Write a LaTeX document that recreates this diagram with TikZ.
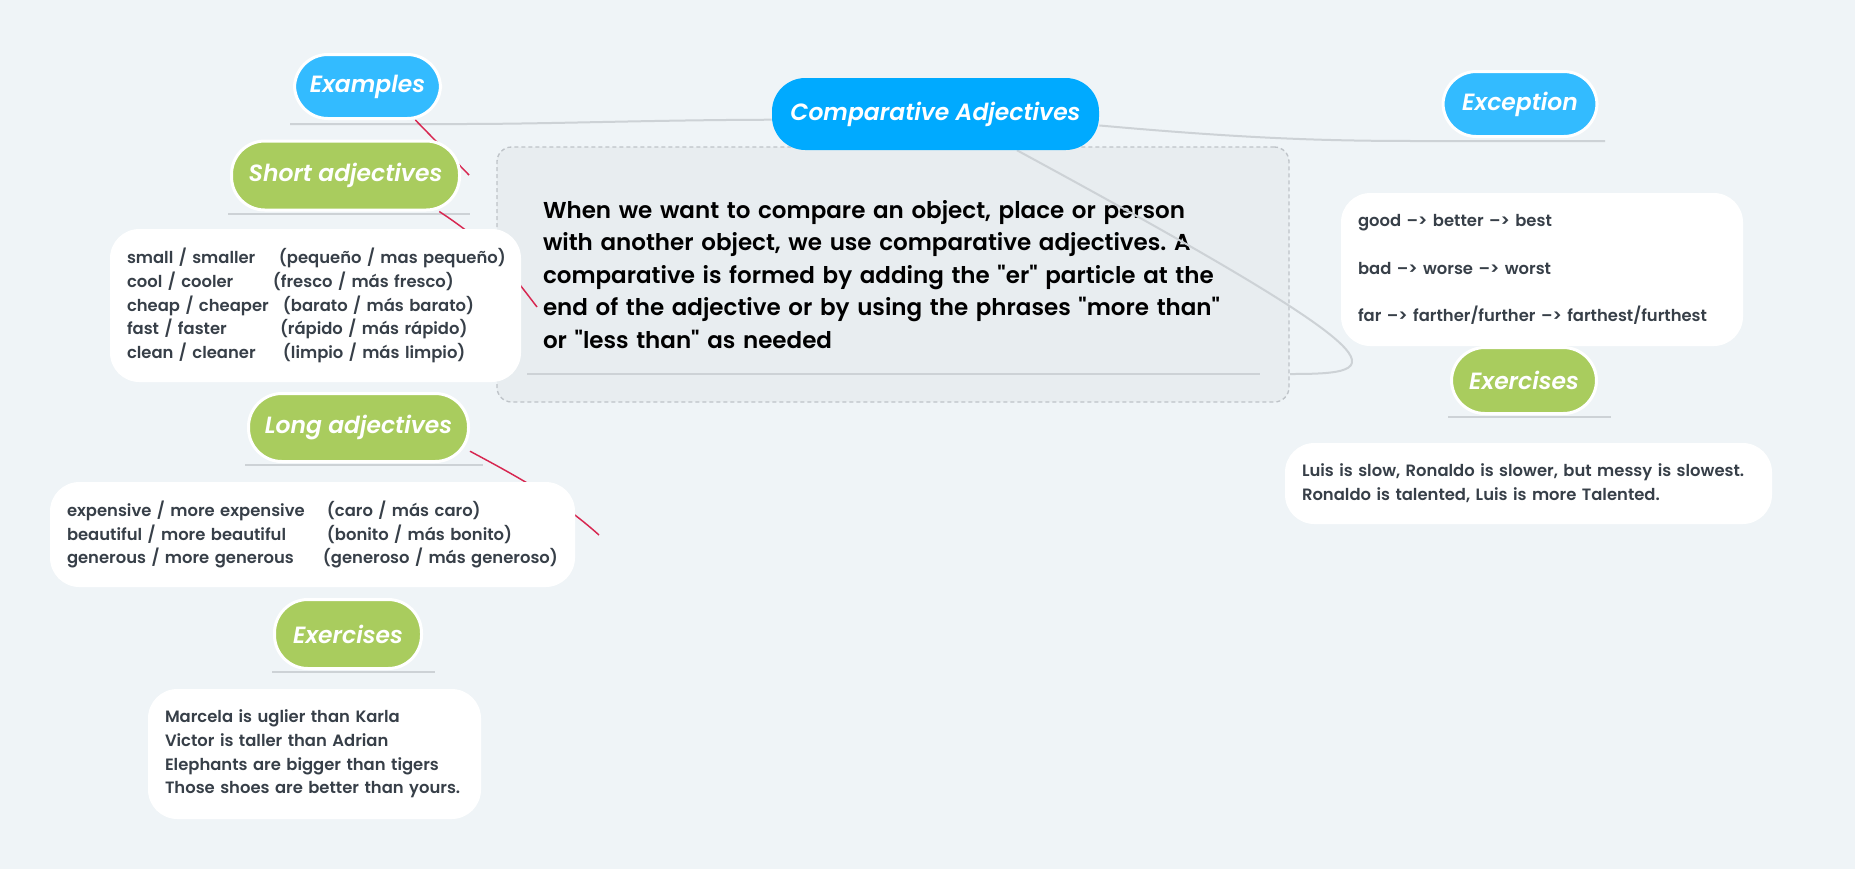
\documentclass[tikz,border=0pt]{standalone}
\usepackage{fontspec}
\setmainfont{Poppins}[BoldFont={* SemiBold},BoldItalicFont={* SemiBold Italic}]
\usetikzlibrary{positioning, calc}
\definecolor{bgpale}{RGB}{239,244,247}
\definecolor{notefill}{RGB}{232,237,240}
\definecolor{notedash}{RGB}{190,195,200}
\definecolor{linegray}{RGB}{205,210,214}
\definecolor{topblue}{RGB}{0,170,255}
\definecolor{subblue}{RGB}{51,187,255}
\definecolor{leafgreen}{RGB}{169,204,94}
\definecolor{relred}{RGB}{215,38,80}
\definecolor{ink}{RGB}{55,63,72}
\pgfdeclarelayer{back}
\pgfdeclarelayer{links}
\pgfsetlayers{back,links,main}
\frenchspacing

\begin{document}
\begin{tikzpicture}[x=0.75pt, y=-0.75pt,
  pill/.style={rounded corners=25pt, text=white, inner sep=0pt,
    font=\fontsize{17.6}{22}\selectfont\bfseries\itshape},
  subpill/.style={pill, fill=#1, draw=white, line width=2.25pt},
  notebox/.style={fill=white, rounded corners=22pt, align=left, inner xsep=12.75pt,
    inner ysep=0pt, text=ink, font=\fontsize{12.3}{17.85}\selectfont\bfseries},
  parabox/.style={fill=notefill, draw=notedash, dash pattern=on 3pt off 2.25pt,
    line width=1pt, rounded corners=11pt, align=left, inner xsep=34.5pt, inner ysep=0pt,
    font=\fontsize{17.25}{24.4}\selectfont\bfseries},
  branch/.style={draw=linegray, line width=1.5pt},
  relline/.style={draw=relred, line width=1.1pt}]

  \begin{pgfonlayer}{back}
    \fill[bgpale] (0,0) rectangle (1855,869);
    \node[parabox, text width=525pt, minimum height=191.25pt] (para) at (893,274.5) {
      When we want to compare an object, place or person\\
      with another object, we use comparative adjectives. A\\
      comparative is formed by adding the \textquotedbl er\textquotedbl{} particle at the\\
      end of the adjective or by using the phrases \textquotedbl more than\textquotedbl\\
      or \textquotedbl less than\textquotedbl{} as needed
    };
  \end{pgfonlayer}
  \useasboundingbox (0,0) rectangle (1855,869);

  \node[pill, fill=topblue, minimum width=245.25pt, minimum height=54pt] (central) at (935.5,114) {Comparative Adjectives};
  \node[subpill=subblue, minimum width=109.5pt, minimum height=48pt] (examples) at (367.5,86.5) {Examples};
  \node[subpill=subblue, minimum width=115.5pt, minimum height=48.75pt] (exception) at (1520,104) {Exception};
  \node[subpill=leafgreen, minimum width=171pt, minimum height=51.75pt] (shortadj) at (345.5,175.5) {Short adjectives};
  \node[subpill=leafgreen, minimum width=165pt, minimum height=51pt] (longadj) at (358.5,427.5) {Long adjectives};
  \node[subpill=leafgreen, minimum width=110.25pt, minimum height=51.75pt] (exerleft) at (348,634) {Exercises};
  \node[subpill=leafgreen, minimum width=108.75pt, minimum height=49.5pt] (exerright) at (1524,380.5) {Exercises};

  \node[notebox, text width=282.75pt, minimum height=114.75pt] (shortlist) at (315.5,305.5) {
    \makebox[114pt][l]{small / smaller}\mbox{(pequeño / mas pequeño)}\\
    \makebox[109.5pt][l]{cool / cooler}\mbox{(fresco / más fresco)}\\
    \makebox[117pt][l]{cheap / cheaper}\mbox{(barato / más barato)}\\
    \makebox[114.75pt][l]{fast / faster}\mbox{(rápido / más rápido)}\\
    \makebox[117pt][l]{clean / cleaner}\mbox{(limpio / más limpio)}
  };
  \node[notebox, text width=368.25pt, minimum height=78.75pt] (longlist) at (312.5,534.5) {
    \makebox[195pt][l]{expensive / more expensive}\mbox{(caro / más caro)}\\
    \makebox[195pt][l]{beautiful / more beautiful}\mbox{(bonito / más bonito)}\\
    \makebox[192pt][l]{generous / more generous}\mbox{(generoso / más generoso)}
  };
  \node[notebox, text width=224.25pt, minimum height=97.5pt] (exerlist) at (314.5,754) {
    \mbox{Marcela is uglier than Karla}\\
    \mbox{Victor is taller than Adrian}\\
    \mbox{Elephants are bigger than tigers}\\
    \mbox{Those shoes are better than yours.}
  };
  \node[notebox, text width=276pt, minimum height=114.75pt] (exclist) at (1542,269.5) {
    \mbox{good –> better –> best}\\[17.85pt]
    \mbox{bad –> worse –> worst}\\[17.85pt]
    \mbox{far –> farther/further –> farthest/furthest}
  };
  \node[notebox, text width=339.75pt, minimum height=60.75pt] (exerrlist) at (1528.5,483.5) {
    \mbox{Luis is slow, Ronaldo is slower, but messy is slowest.}\\
    \mbox{Ronaldo is talented, Luis is more Talented.}
  };

  \coordinate (exul) at (290,124);
  \coordinate (excul) at (1605,141);
  \coordinate (pjoin) at (1290,374);
  \coordinate (pulA) at (527,374);
  \coordinate (pulB) at (1260,374);
  \coordinate (r1) at (469,175);
  \coordinate (r2) at (537,307);
  \coordinate (r3) at (599,535);

  \begin{pgfonlayer}{links}
    \draw[branch] (central.182) .. controls (650,120) and (550,124) .. (460,124) -- (exul);
    \draw[branch] (central.356) .. controls (1250,139) and (1330,141) .. (1420,141) -- (excul);
    \draw[branch] (central.336) .. controls (1413,365) and (1390,374) .. (pjoin);
    \draw[branch] (pulA) -- (pulB);
    \draw[branch] ($(shortadj.south west)+(-2,2)$) -- ($(shortadj.south east)+(9,2)$);
    \draw[branch] ($(longadj.south west)+(-2,2)$) -- ($(longadj.south east)+(13,2)$);
    \draw[branch] ($(exerleft.south west)+(-1,2)$) -- ($(exerleft.south east)+(12,2)$);
    \draw[branch] ($(exerright.south west)+(-2,2)$) -- ($(exerright.south east)+(13,2)$);
    \draw[relline] (examples.325) -- (r1);
    \draw[relline] (shortadj.339) .. controls (490,245) and (505,265) .. (r2);
    \draw[relline] (longadj.348) .. controls (520,478) and (560,500) .. (r3);
  \end{pgfonlayer}
\end{tikzpicture}
\end{document}
